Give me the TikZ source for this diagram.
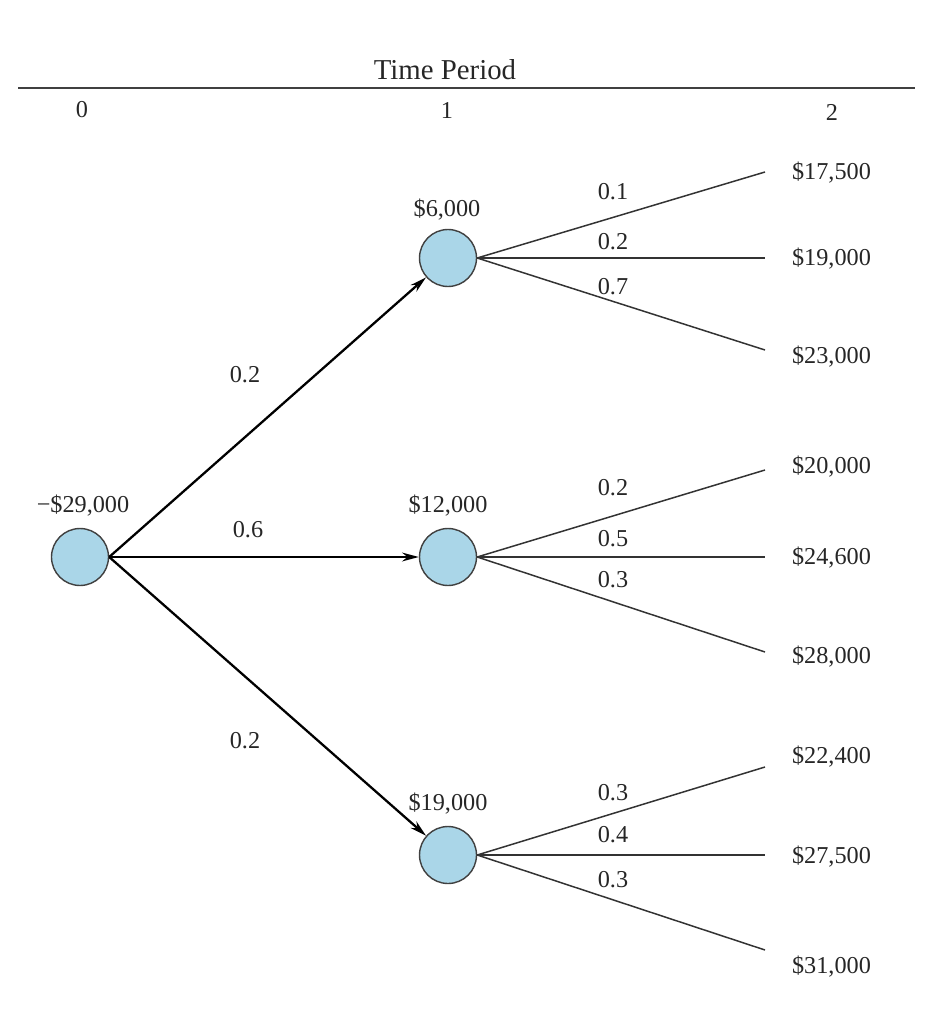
\documentclass[tikz,border=0pt]{standalone}
\usepackage{fontspec}
\setmainfont{Liberation Serif}
\usetikzlibrary{arrows.meta,positioning}
\definecolor{chanceblue}{RGB}{170,214,232}

\begin{document}
\begin{tikzpicture}[
  x=0.02cm, y=-0.02cm,
  font=\fontsize{13.8}{16}\selectfont, text=black!85,
  chance/.style={circle, draw=black!75, line width=0.8pt, fill=chanceblue,
    minimum size=1.14cm, inner sep=0pt},
  cash/.style={inner sep=1pt},
  val/.style={inner sep=1pt, anchor=west},
  prob/.style={inner sep=1pt},
  arr/.style={-{Stealth[length=9.5pt,width=5pt]}, line width=1.3pt},
  branch/.style={draw=black!80, line width=0.85pt}
]
\useasboundingbox (0,0) rectangle (949,1024);

% time axis
\node[font=\fontsize{16.4}{18}\selectfont] (title) at (445,70) {Time Period};
\coordinate (axl) at (18,88);
\coordinate (axr) at (915,88);
\draw[line width=1.2pt, black!75] (axl) -- (axr);
\node (t0) at (82,110) {0};
\node (t1) at (447,110) {1};
\node (t2) at (832,112) {2};

% chance nodes
\node[chance] (root) at (80,557) {};
\node[chance] (n1) at (448,258) {};
\node[chance] (n2) at (448,557) {};
\node[chance] (n3) at (448,855) {};
\node[cash] (c0) at (83,506) {−\$29,000};
\node[cash] (c1) at (447,210) {\$6,000};
\node[cash] (c2) at (448,506) {\$12,000};
\node[cash] (c3) at (448,804) {\$19,000};

% period 1
\draw[arr] (root.east) -- (n1);
\draw[arr] (root.east) -- (n2);
\draw[arr] (root.east) -- (n3);
\node[prob] (p1) at (245,375) {0.2};
\node[prob] (p2) at (248,530) {0.6};
\node[prob] (p3) at (245,741) {0.2};

% period 2, upper node
\coordinate (e1a) at (765,172);
\coordinate (e1b) at (765,258);
\coordinate (e1c) at (765,350);
\draw[branch] (n1.east) -- (e1a);
\draw[branch] (n1.east) -- (e1b);
\draw[branch] (n1.east) -- (e1c);
\node[prob] (q1a) at (613,192) {0.1};
\node[prob] (q1b) at (613,242) {0.2};
\node[prob] (q1c) at (613,287) {0.7};
\node[val] (v1a) at (790,173) {\$17,500};
\node[val] (v1b) at (790,259) {\$19,000};
\node[val] (v1c) at (790,357) {\$23,000};

% period 2, middle node
\coordinate (e2a) at (765,470);
\coordinate (e2b) at (765,557);
\coordinate (e2c) at (765,652);
\draw[branch] (n2.east) -- (e2a);
\draw[branch] (n2.east) -- (e2b);
\draw[branch] (n2.east) -- (e2c);
\node[prob] (q2a) at (613,488) {0.2};
\node[prob] (q2b) at (613,539) {0.5};
\node[prob] (q2c) at (613,580) {0.3};
\node[val] (v2a) at (790,467) {\$20,000};
\node[val] (v2b) at (790,558) {\$24,600};
\node[val] (v2c) at (790,657) {\$28,000};

% period 2, lower node
\coordinate (e3a) at (765,767);
\coordinate (e3b) at (765,855);
\coordinate (e3c) at (765,950);
\draw[branch] (n3.east) -- (e3a);
\draw[branch] (n3.east) -- (e3b);
\draw[branch] (n3.east) -- (e3c);
\node[prob] (q3a) at (613,793) {0.3};
\node[prob] (q3b) at (613,835) {0.4};
\node[prob] (q3c) at (613,880) {0.3};
\node[val] (v3a) at (790,757) {\$22,400};
\node[val] (v3b) at (790,857) {\$27,500};
\node[val] (v3c) at (790,967) {\$31,000};
\end{tikzpicture}
\end{document}
